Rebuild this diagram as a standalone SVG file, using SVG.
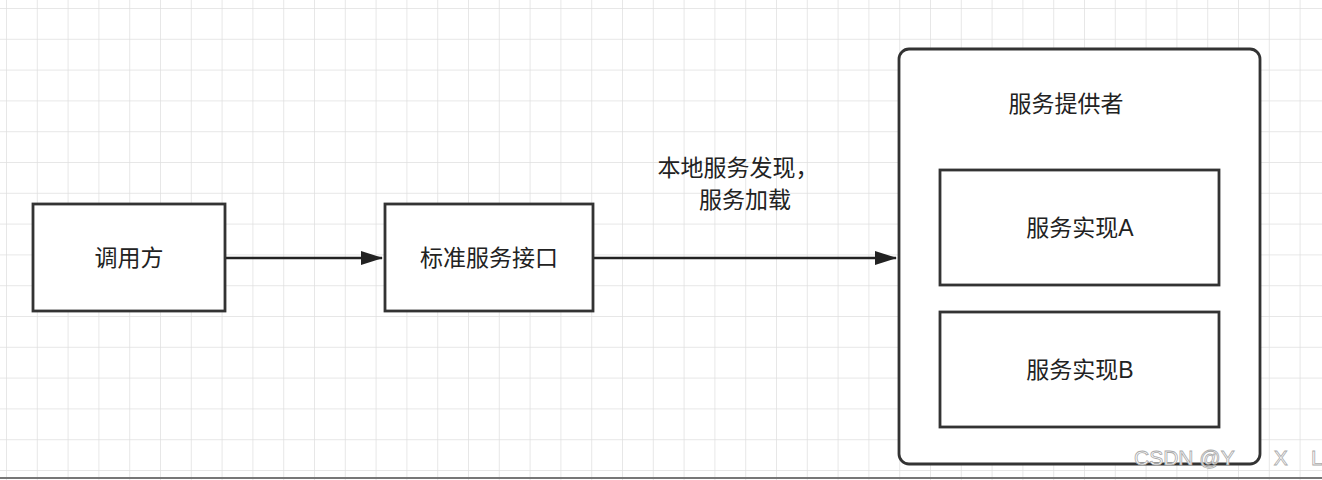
<svg xmlns="http://www.w3.org/2000/svg" width="1322" height="480" viewBox="0 0 1322 480">
<defs>
<pattern id="g" x="6" y="8" width="30.8" height="30.8" patternUnits="userSpaceOnUse"><path d="M0 0V30.8M0 0H30.8" stroke="#e0e0e0" stroke-width="1.5" fill="none"/></pattern>
<marker id="a" markerWidth="22" markerHeight="14" refX="21" refY="7" orient="auto" markerUnits="userSpaceOnUse"><path d="M0 0L22 7L0 14Z" fill="#222"/></marker>
<style>.b{fill:#fff;stroke:#333;stroke-width:2.8}.t{font-family:"Liberation Sans","Noto Sans CJK SC",sans-serif;font-size:23px;fill:#222;text-anchor:middle}</style>
</defs>
<rect width="1322" height="480" fill="#fff"/>
<rect width="1322" height="480" fill="url(#g)"/>
<path d="M0 478H1322" stroke="#777" stroke-width="2"/>
<g id="connectors" stroke="#222" stroke-width="2.5" fill="none">
<path d="M226 258H382" marker-end="url(#a)"/>
<path d="M594 258H896" marker-end="url(#a)"/>
</g>
<g id="n1"><rect class="b" x="33" y="204" width="192" height="107"/><text class="t" x="129" y="266">调用方</text></g>
<g id="n2"><rect class="b" x="385" y="204" width="208" height="107"/><text class="t" x="489" y="266">标准服务接口</text></g>
<g id="lbl"><text class="t" x="738" y="176">本地服务发现，</text><text class="t" x="745" y="208">服务加载</text></g>
<g id="n3"><rect class="b" x="899" y="49" width="361" height="415" rx="10"/><text class="t" x="1066" y="112">服务提供者</text></g>
<g id="n4"><rect class="b" x="940" y="170" width="279" height="115"/><text class="t" x="1080" y="236">服务实现A</text></g>
<g id="n5"><rect class="b" x="940" y="312" width="279" height="115"/><text class="t" x="1080" y="378">服务实现B</text></g>
<text x="1134" y="465" font-family="Liberation Sans,sans-serif" font-size="21" fill="#fff" stroke="#aaa" stroke-width="0.8">CSDN @Y</text>
<text x="1262" y="465" font-family="Liberation Sans,sans-serif" font-size="21" fill="#fff" stroke="#aaa" stroke-width="0.8" xml:space="preserve">  X    L</text>
</svg>
